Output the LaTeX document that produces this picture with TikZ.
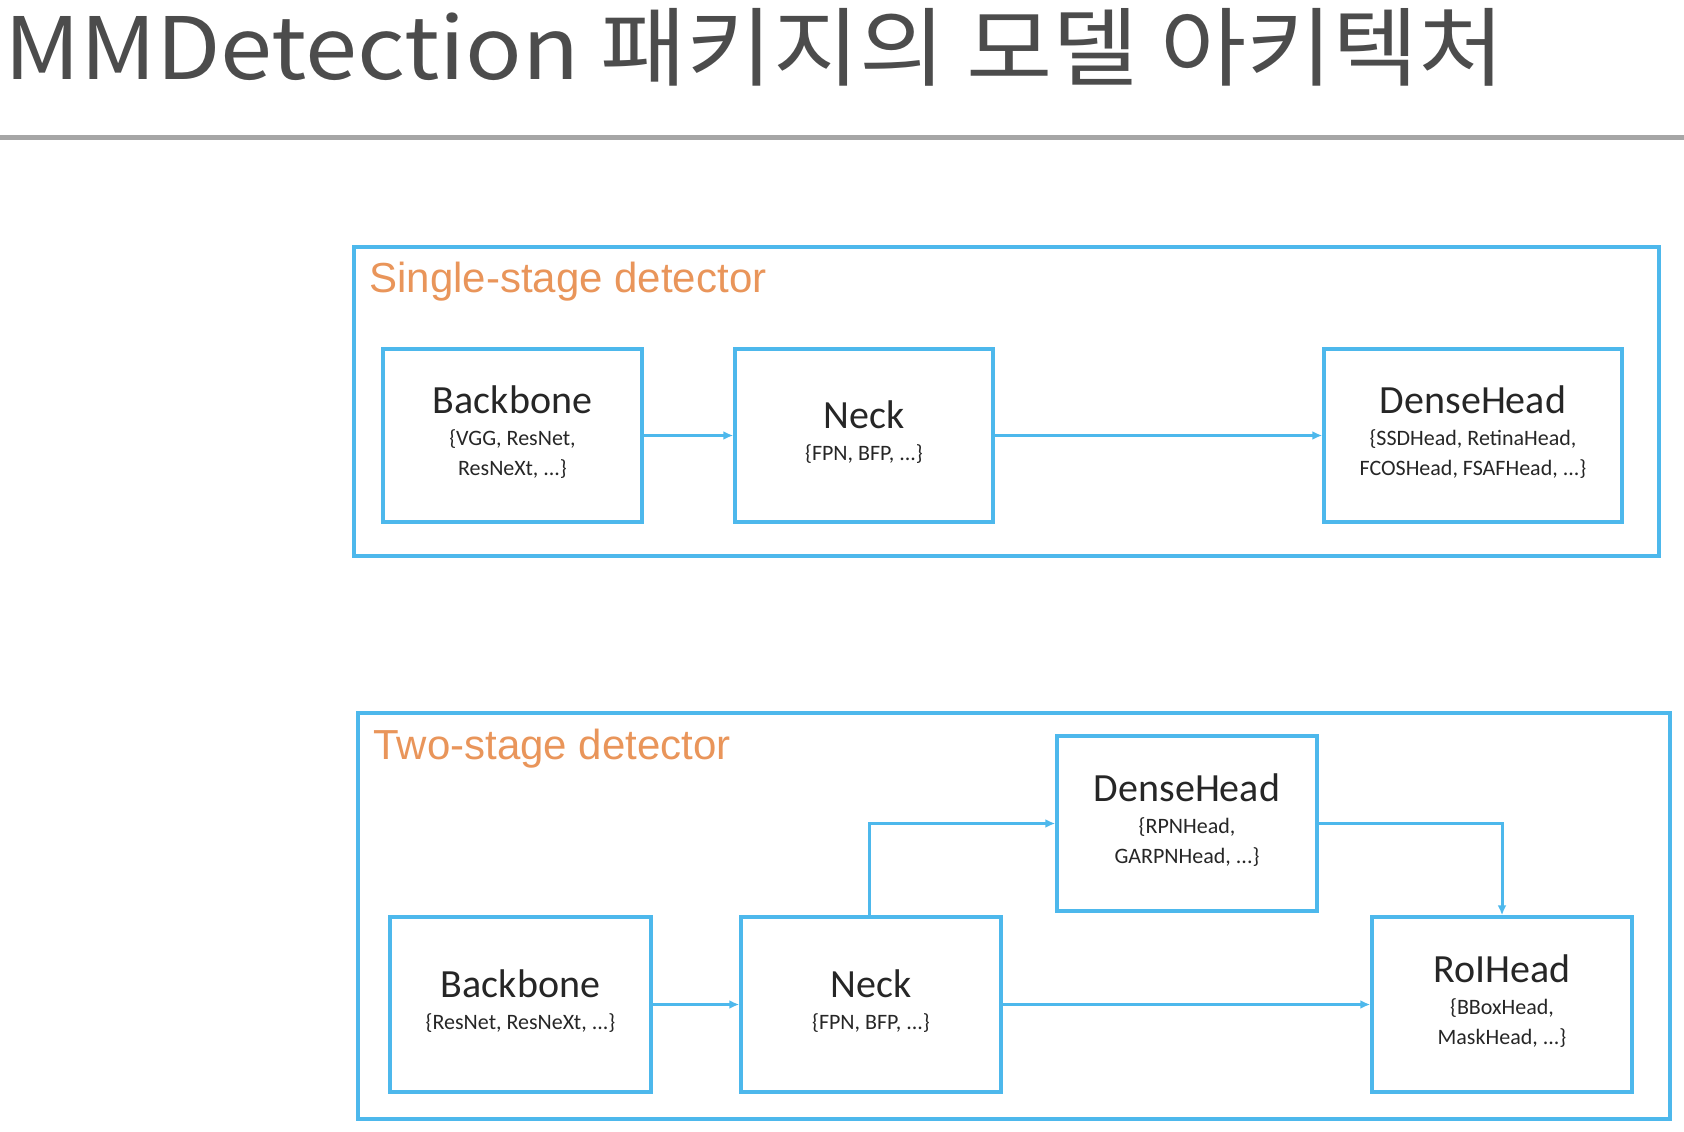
\documentclass[tikz,border=0pt]{standalone}
\usepackage{fontspec}
\setmainfont{Carlito}
\newfontfamily\kr{Noto Sans CJK KR}
\newfontfamily\lib{Liberation Sans}
\usetikzlibrary{arrows.meta}
\definecolor{bl}{HTML}{4DB8EC}
\definecolor{og}{HTML}{E9955A}
\begin{document}
\begin{tikzpicture}[x=1pt,y=-1pt,
  frame/.style={draw=bl,line width=3.5pt},
  box/.style={draw=bl,line width=3.5pt,align=center,inner sep=0pt,text=black!85},
  lab/.style={text=og,font=\lib\fontsize{42}{46}\selectfont,anchor=west},
  arr/.style={draw=bl,line width=3pt,-{Latex[length=10pt,width=9pt]}}]
\useasboundingbox (0,0) rectangle (1684,1132);
\node[anchor=base west,text=black!70,font=\kr\fontsize{86}{90}\selectfont,inner sep=0pt,xscale=1.09] (title) at (4,80) {MMDetection 패키지의 모델 아키텍처};
\draw[line width=5pt,black!35] (0,137) coordinate (l1) -- (1684,137) coordinate (l2);
\newcommand{\mybox}[7]{%
 \node[box,minimum width=#4pt,minimum height=#5pt] (#1) at (#2,#3) {\fontsize{22}{30}\selectfont\begin{tabular}{@{}c@{}}\fontsize{40}{44}\selectfont #6\\[2pt] #7\end{tabular}};}
\draw[frame] (354,247) rectangle (1659,556);
\node[lab] (l1t) at (366,282) {Single-stage detector};
\mybox{bb1}{512.5}{435.5}{259}{173}{Backbone}{\{VGG, ResNet,\\ResNeXt, ...\}}
\mybox{nk1}{864}{435.5}{258}{173}{Neck}{\{FPN, BFP, ...\}}
\mybox{dh1}{1473}{435.5}{298}{173}{DenseHead}{\{SSDHead, RetinaHead,\\FCOSHead, FSAFHead, ...\}}
\draw[arr] (bb1) -- (nk1);
\draw[arr] (nk1) -- (dh1);
\draw[frame] (358,713) rectangle (1670,1119);
\node[lab] (l2t) at (370,749) {Two-stage detector};
\mybox{dh2}{1187}{823.5}{260}{175}{DenseHead}{\{RPNHead,\\GARPNHead, ...\}}
\mybox{bb2}{520.5}{1004.5}{261}{175}{Backbone}{\{ResNet, ResNeXt, ...\}}
\mybox{nk2}{871}{1004.5}{260}{175}{Neck}{\{FPN, BFP, ...\}}
\mybox{ri}{1502}{1004.5}{260}{175}{RoIHead}{\{BBoxHead,\\MaskHead, ...\}}
\draw[arr] (bb2) -- (nk2);
\draw[arr] (nk2) -- (ri);
\draw[arr] (nk2.north -| 869,0) |- (dh2.west);
\draw[arr] (dh2.east) -| (ri.north);
\end{tikzpicture}
\end{document}
